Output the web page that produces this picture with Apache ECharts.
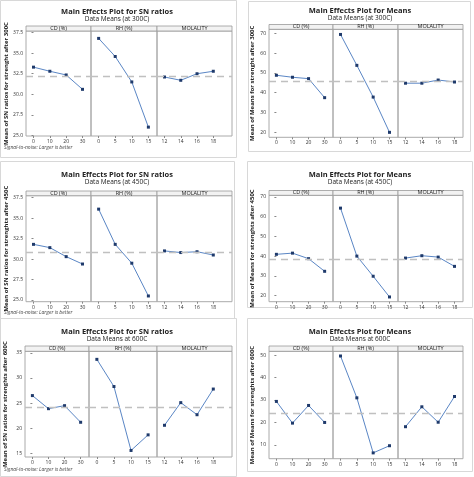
<!DOCTYPE html>
<html><head><meta charset="utf-8">
<script src="https://cdn.jsdelivr.net/npm/echarts@6/dist/echarts.min.js"></script>
<style>html,body{margin:0;padding:0;background:#fff}#c{width:474px;height:477px}</style>
</head><body><div id="c"></div>
<script>
// ---- data ----
const cdLevels = [0, 10, 20, 30];
const rhLevels = [0, 5, 10, 15];
const molLevels = [12, 14, 16, 18];
const factorNames = ['CD (%)', 'RH (%)', 'MOLALITY'];

const sn300CD = [33.3, 32.8, 32.35, 30.6];
const sn300RH = [36.8, 34.6, 31.5, 26.0];
const sn300MOL = [32.1, 31.7, 32.5, 32.8];
const sn300Mean = 32.2;

const mean300CD = [48.8, 47.8, 47.1, 37.5];
const mean300RH = [69.4, 53.8, 37.8, 20.0];
const mean300MOL = [44.8, 44.8, 46.4, 45.4];
const mean300Mean = 45.6;

const sn450CD = [31.8, 31.4, 30.3, 29.4];
const sn450RH = [36.1, 31.8, 29.5, 25.5];
const sn450MOL = [31.0, 30.8, 30.9, 30.5];
const sn450Mean = 30.8;

const mean450CD = [40.9, 41.5, 38.7, 32.3];
const mean450RH = [64.3, 40.0, 29.8, 19.3];
const mean450MOL = [39.0, 40.2, 39.5, 34.8];
const mean450Mean = 38.4;

const sn600CD = [26.5, 23.9, 24.5, 21.2];
const sn600RH = [33.7, 28.3, 15.6, 18.7];
const sn600MOL = [20.6, 25.1, 22.7, 27.8];
const sn600Mean = 24.1;

const mean600CD = [29.4, 19.7, 27.6, 20.0];
const mean600RH = [49.7, 31.0, 6.4, 9.6];
const mean600MOL = [18.1, 27.0, 20.1, 31.6];
const mean600Mean = 24.2;

const snTicks = [25.0, 27.5, 30.0, 32.5, 35.0, 37.5];
const meansTicks = [20, 30, 40, 50, 60, 70];
const sn600Ticks = [15, 20, 25, 30, 35];
const means600Ticks = [10, 20, 30, 40, 50];

// ---- layout ----
const panels = [
 {title:'Main Effects Plot for SN ratios', sub:'Data Means (at 300C)', yname:'Mean of SN ratios for strenght after 300C',
  data:[sn300CD,sn300RH,sn300MOL], mean:sn300Mean, ticks:snTicks, dec:1, ymin:24.92, ymax:37.7,
  xs:[26,91,157,232], top:31, bottom:136, strip:26, tx:117, ty:12, note:148, gap:17, frame:[0,0,236,157], snr:true},
 {title:'Main Effects Plot for Means', sub:'Data Means (at 300C)', yname:'Mean of Means for strenght after 300C',
  data:[mean300CD,mean300RH,mean300MOL], mean:mean300Mean, ticks:meansTicks, dec:0, ymin:17.5, ymax:72,
  xs:[269,333,398,463], top:29.3, bottom:137.3, strip:24.5, tx:360, ty:11, gap:14, frame:[248,1,222,150]},
 {title:'Main Effects Plot for SN ratios', sub:'Data Means (at 450C)', yname:'Mean of SN ratios for strenghts after 450C',
  data:[sn450CD,sn450RH,sn450MOL], mean:sn450Mean, ticks:snTicks, dec:1, ymin:24.8, ymax:37.74,
  xs:[26,91,157,232], top:195.7, bottom:301.7, strip:191, tx:117, ty:175, note:313, gap:17, frame:[0,161,234,157], snr:true},
 {title:'Main Effects Plot for Means', sub:'Data Means (at 450C)', yname:'Mean of Means for strenghts after 450C',
  data:[mean450CD,mean450RH,mean450MOL], mean:mean450Mean, ticks:meansTicks, dec:0, ymin:16.9, ymax:70.8,
  xs:[269,333,398,463], top:195.3, bottom:301.7, strip:190.5, tx:360, ty:175, gap:14, frame:[247,161,225,146]},
 {title:'Main Effects Plot for SN ratios', sub:'Data Means at 600C', yname:'Mean of SN ratios for strenghts after 600C',
  data:[sn600CD,sn600RH,sn600MOL], mean:sn600Mean, ticks:sn600Ticks, dec:0, ymin:14.3, ymax:35.3,
  xs:[25,89,157,232], top:351.3, bottom:457, strip:346, tx:117, ty:332, note:470, gap:17, frame:[0,318,236,158], snr:true},
 {title:'Main Effects Plot for Means', sub:'Data Means at 600C', yname:'Mean of Means for strenghts after 600C',
  data:[mean600CD,mean600RH,mean600MOL], mean:mean600Mean, ticks:means600Ticks, dec:0, ymin:3.8, ymax:51.8,
  xs:[269,333,398,463], top:351.3, bottom:458.7, strip:346, tx:360, ty:332, gap:14, frame:[247,318,225,153]}
];
const levels = [cdLevels, rhLevels, molLevels];

const grid=[], xAxis=[], yAxis=[], series=[], graphic=[];
const W=474, H=477;
panels.forEach((p,pi)=>{
  graphic.push({type:'rect', shape:{x:p.frame[0]+0.5,y:p.frame[1]+0.5,width:p.frame[2],height:p.frame[3]},
    style:{fill:'none',stroke:'#d8d8d8',lineWidth:1}, z:0});
  graphic.push({type:'text', x:p.tx, y:p.ty, style:{text:p.title, textAlign:'center', textVerticalAlign:'middle',
    font:'bold 7.5px "Open Sans", sans-serif', fill:'#222'}});
  graphic.push({type:'text', x:p.tx, y:p.ty+7, style:{text:p.sub, textAlign:'center', textVerticalAlign:'middle',
    font:'6.5px "Open Sans", sans-serif', fill:'#222'}});
  if(p.note) graphic.push({type:'text', x:4, y:p.note, style:{text:'Signal-to-noise: Larger is better', textVerticalAlign:'middle',
    font:'italic 5px "Open Sans", sans-serif', fill:'#444'}});
  for(let k=0;k<3;k++){
    const gi=grid.length;
    const x0=p.xs[k], x1=p.xs[k+1];
    grid.push({left:x0, top:p.top, width:x1-x0, height:p.bottom-p.top, show:true, borderColor:'#aaa', borderWidth:1, containLabel:false});
    graphic.push({type:'rect', shape:{x:x0,y:p.strip,width:x1-x0,height:p.top-p.strip},
      style:{fill:'#f2f2f2',stroke:'#999',lineWidth:0.8}, z:5});
    graphic.push({type:'text', x:(x0+x1)/2, y:(p.strip+p.top)/2, z:6, style:{text:factorNames[k], textAlign:'center', textVerticalAlign:'middle',
      font:'5.5px "Open Sans", sans-serif', fill:'#222'}});
    const lv=levels[k], step=lv[1]-lv[0];
    const padR = (p.snr && k===2) ? 1.15 : 0.52;
    xAxis.push({gridIndex:gi, type:'value', min:lv[0]-0.46*step, max:lv[3]+padR*step,
      axisLine:{show:false}, splitLine:{show:false},
      axisTick:{show:true, customValues:lv, length:2, lineStyle:{color:'#888'}},
      axisLabel:{customValues:lv, fontSize:5, color:'#333', margin:3, fontFamily:'Open Sans'}});
    yAxis.push({gridIndex:gi, type:'value', min:p.ymin, max:p.ymax,
      axisLine:{show:false}, splitLine:{show:false},
      axisTick:{show:k===0, customValues:p.ticks, length:2, lineStyle:{color:'#888'}},
      axisLabel:{show:k===0, customValues:p.ticks, fontSize:5, color:'#333', margin:3, fontFamily:'Open Sans',
        formatter:v=>Number(v).toFixed(p.dec)},
      name:k===0?p.yname:'', nameLocation:'middle', nameGap:p.gap, nameRotate:90,
      nameTextStyle:{fontSize:6, fontWeight:'bold', color:'#222', fontFamily:'Open Sans'}});
    series.push({type:'line', xAxisIndex:gi, yAxisIndex:gi, data:lv.map((x,i)=>[x,p.data[k][i]]),
      symbol:'rect', symbolSize:3, lineStyle:{color:'#5a86c5', width:1}, itemStyle:{color:'#1f3a6b'},
      animation:false,
      markLine:{silent:true, symbol:'none', label:{show:false}, animation:false,
        lineStyle:{color:'#c0c0c0', type:[7,5], width:1.3}, data:[{yAxis:p.mean}]}});
  }
});

const chart = echarts.init(document.getElementById('c'), null, {renderer:'canvas'});
chart.setOption({backgroundColor:'#fff', animation:false, grid, xAxis, yAxis, series, graphic});
</script></body></html>
